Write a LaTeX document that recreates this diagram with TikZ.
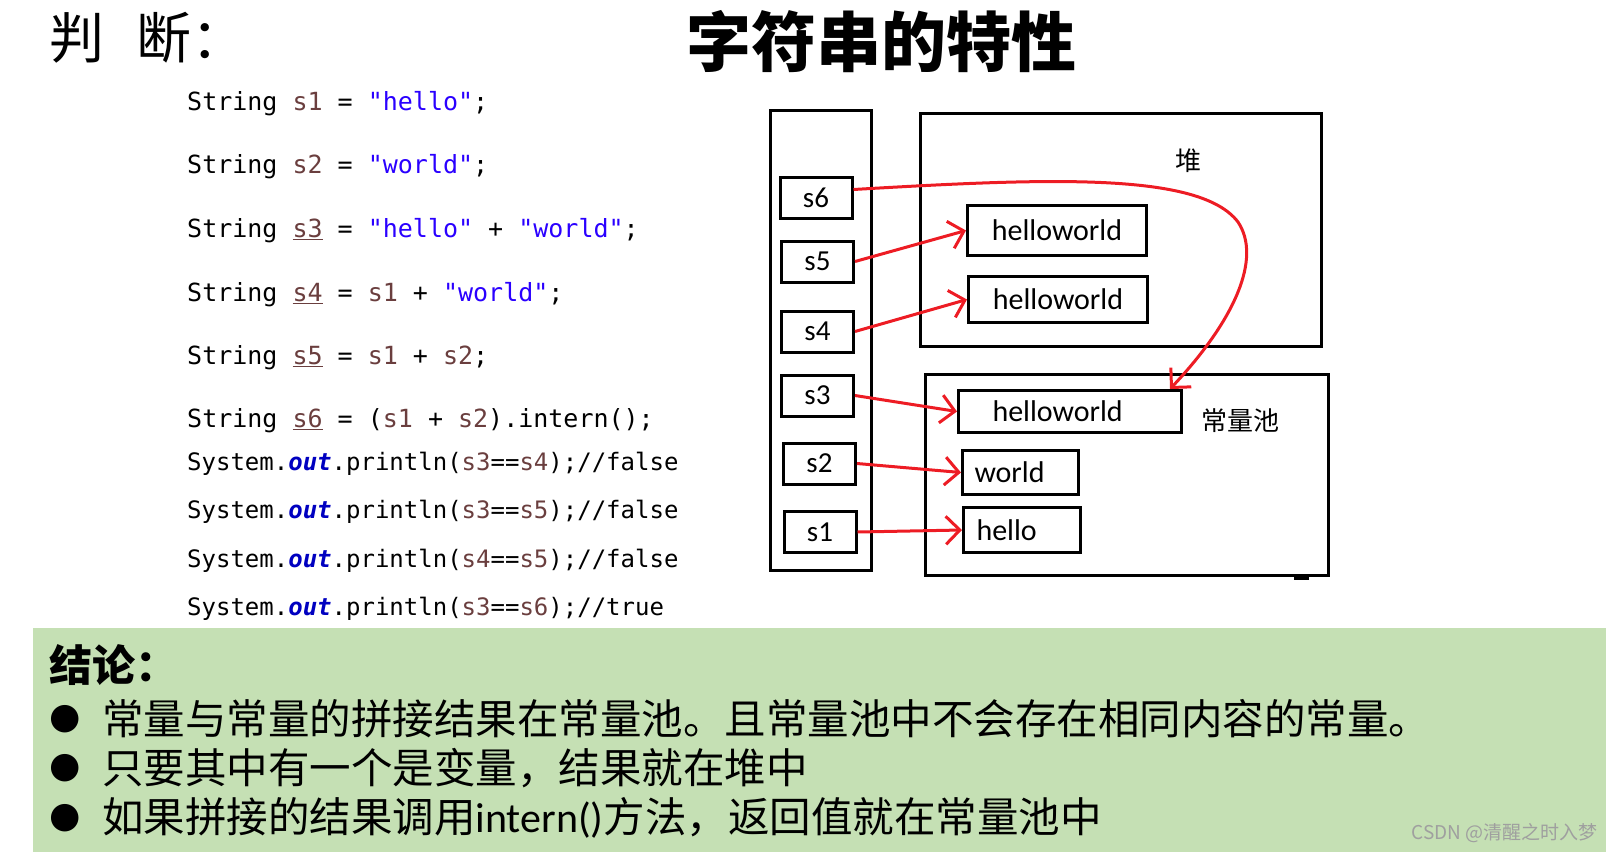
\documentclass[tikz,border=0pt]{standalone}
\usepackage{fontspec}
\setmainfont{Carlito}
\newfontfamily\cjk{Noto Sans CJK SC}
\newfontfamily\codefont{DejaVu Sans Mono}
\newfontfamily\symfont{DejaVu Sans}
\usetikzlibrary{arrows.meta,positioning}
\definecolor{varc}{HTML}{6A3E3E}
\definecolor{strc}{HTML}{2A00FF}
\definecolor{outc}{HTML}{0000C0}
\definecolor{arrowred}{HTML}{ED1C24}
\definecolor{panelgreen}{HTML}{C5E0B4}
\newcommand{\jvar}[1]{\textcolor{varc}{#1}}
\newcommand{\juvar}[1]{\textcolor{varc}{\underline{#1}}}
\newcommand{\jstr}[1]{\textcolor{strc}{#1}}
\newcommand{\jout}{\textcolor{outc}{\textbf{\textit{out}}}}

\begin{document}
\begin{tikzpicture}[
    x=1pt, y=-1pt,
    >={Straight Barb[length=14pt,width=28pt]},
    codeline/.style={anchor=base west, inner sep=0pt, font=\codefont\fontsize{25}{30}\selectfont},
    printline/.style={codeline, font=\codefont\fontsize{24}{29}\selectfont},
    area/.style={draw, line width=3pt, inner sep=0pt},
    varbox/.style={draw, line width=3pt, minimum width=72pt, minimum height=41pt, inner sep=0pt, font=\fontsize{29}{30}\selectfont},
    strbox/.style={draw, line width=3pt, inner sep=0pt, font=\fontsize{30}{32}\selectfont},
    ptr/.style={draw=arrowred, line width=3pt, ->},
    cjktext/.style={anchor=west, inner sep=0pt, font=\cjk\fontsize{41.5}{44}\selectfont}
]
\useasboundingbox (0,0) rectangle (1610,852);

% Headings
\node[anchor=west, inner sep=0pt, font=\cjk\fontsize{55}{60}\selectfont] (judge) at (49,38) {判\hspace{32pt}断：};
\node[font=\cjk\bfseries\fontsize{65}{70}\selectfont] (title) at (881,42) {字符串的特性};

% Code
\node[codeline] (c1) at (187,110) {String \jvar{s1} = \jstr{"hello"};};
\node[codeline] (c2) at (187,173.5) {String \jvar{s2} = \jstr{"world"};};
\node[codeline] (c3) at (187,237) {String \juvar{s3} = \jstr{"hello"} + \jstr{"world"};};
\node[codeline] (c4) at (187,301) {String \juvar{s4} = \jvar{s1} + \jstr{"world"};};
\node[codeline] (c5) at (187,364.5) {String \juvar{s5} = \jvar{s1} + \jvar{s2};};
\node[codeline] (c6) at (187,427) {String \juvar{s6} = (\jvar{s1} + \jvar{s2}).intern();};
\node[printline] (p1) at (187,470) {System.\jout.println(\jvar{s3}==\jvar{s4});//false};
\node[printline] (p2) at (187,518.5) {System.\jout.println(\jvar{s3}==\jvar{s5});//false};
\node[printline] (p3) at (187,567) {System.\jout.println(\jvar{s4}==\jvar{s5});//false};
\node[printline] (p4) at (187,615) {System.\jout.println(\jvar{s3}==\jvar{s6});//true};

% Memory areas
\node[area, minimum width=101pt, minimum height=460pt] (stack) at (821,340.5) {};
\node[area, minimum width=401pt, minimum height=233pt] (heap) at (1121,230) {};
\node[area, minimum width=403pt, minimum height=201pt] (pool) at (1127,475) {};
\draw[line width=6pt] (1294,577) -- (1309,577);
\node[font=\cjk\fontsize{26}{28}\selectfont] (heaplbl) at (1188,161) {堆};
\node[font=\cjk\fontsize{26}{28}\selectfont] (poollbl) at (1240,421) {常量池};

% Stack variables
\node[varbox] (s6) at (816,197.5) {s6};
\node[varbox] (s5) at (817.5,261.5) {s5};
\node[varbox] (s4) at (817.5,331.5) {s4};
\node[varbox] (s3) at (817.5,395.5) {s3};
\node[varbox] (s2) at (819.5,463.5) {s2};
\node[varbox] (s1) at (820,532) {s1};

% String objects
\node[strbox, minimum width=179pt, minimum height=50pt] (hw1) at (1057,230.5) {helloworld};
\node[strbox, minimum width=179pt, minimum height=46pt] (hw2) at (1058,299.5) {helloworld};
\node[strbox, minimum width=223pt, minimum height=42pt, inner xsep=34pt, text width=155pt, align=left] (hw3) at (1070,411.5) {helloworld};
\node[strbox, minimum width=116pt, minimum height=44pt, inner xsep=12pt, text width=92pt, align=left] (world) at (1020.5,472.5) {world};
\node[strbox, minimum width=117pt, minimum height=45pt, inner xsep=13pt, text width=91pt, align=left] (hello) at (1022,530) {hello};

% References
\draw[ptr] (s5.east) -- (hw1.west);
\draw[ptr] (s4.east) -- (hw2.west);
\draw[ptr] (s3.east) -- (hw3.west);
\draw[ptr] (s2.east) -- (world.west);
\draw[ptr] (s1.east) -- (hello.west);
\draw[ptr] ([yshift=8pt]s6.east) .. controls (1050,178) and (1200,172) .. (1238,222)
    .. controls (1262,258) and (1235,320) .. ([xshift=100pt]hw3.north);

% Conclusion panel
\fill[panelgreen] (33,628) rectangle (1606,852);
\node[anchor=west, inner sep=0pt, font=\cjk\bfseries\fontsize{43}{48}\selectfont] (concl) at (49,665) {结论：};
\node[font=\symfont\fontsize{36}{40}\selectfont] (b1) at (65,719) {●};
\node[font=\symfont\fontsize{36}{40}\selectfont] (b2) at (65,768) {●};
\node[font=\symfont\fontsize{36}{40}\selectfont] (b3) at (65,818) {●};
\node[cjktext] (l1) at (102,719) {常量与常量的拼接结果在常量池。且常量池中不会存在相同内容的常量。};
\node[cjktext] (l2) at (102,768) {只要其中有一个是变量，结果就在堆中};
\node[cjktext] (l3) at (102,818) {如果拼接的结果调用{\rmfamily\fontsize{42}{44}\selectfont intern()}方法，返回值就在常量池中};
\node[anchor=east, inner sep=0pt, font=\cjk\fontsize{19}{20}\selectfont, text=gray!75] (mark) at (1598,833) {CSDN @清醒之时入梦};
\end{tikzpicture}
\end{document}
